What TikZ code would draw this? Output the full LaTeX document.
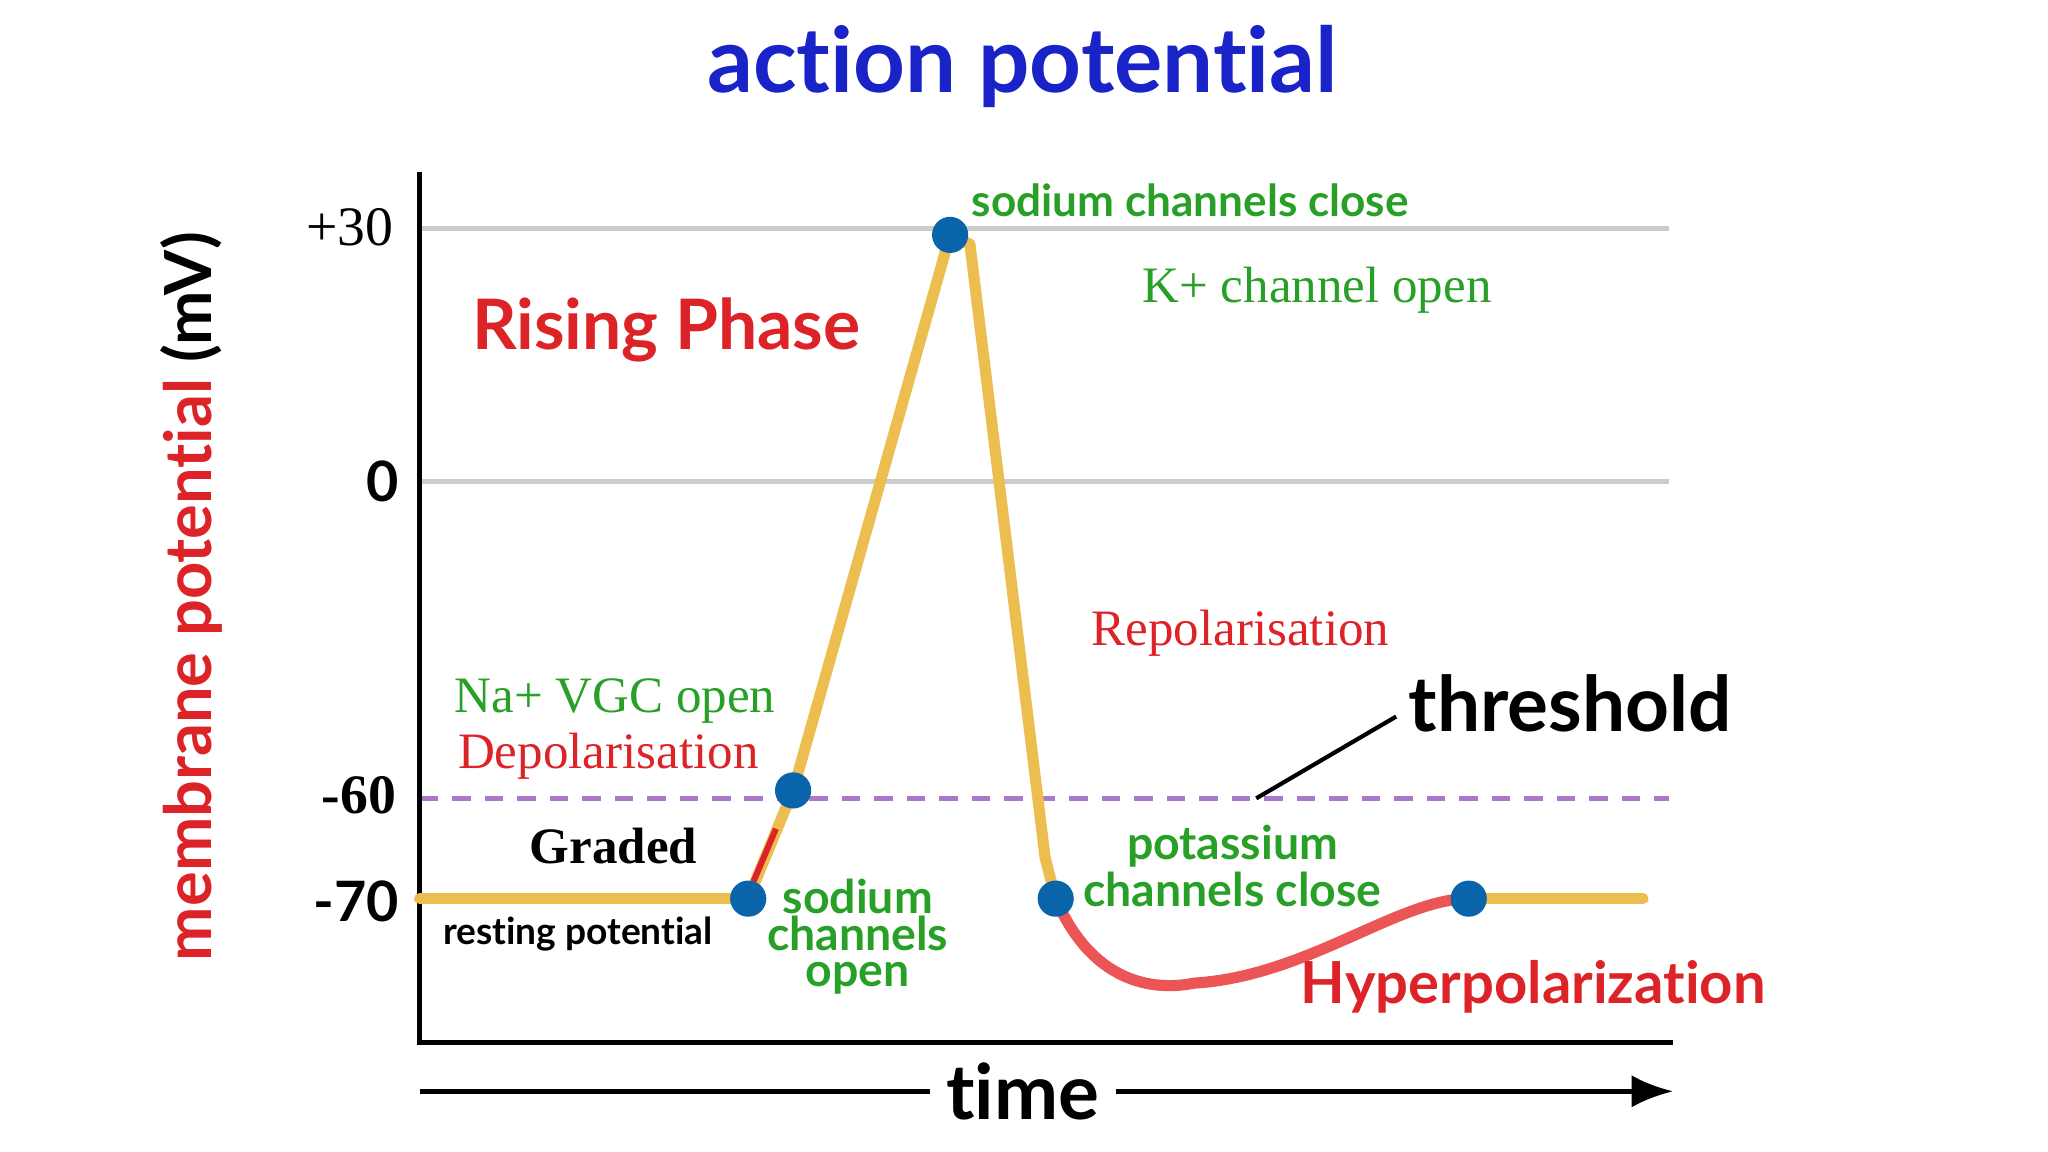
\documentclass[tikz,border=0pt]{standalone}
\usepackage{fontspec}
\setmainfont{Liberation Serif}
\newfontfamily\sansb[Ligatures=NoCommon]{Lato}
\usetikzlibrary{arrows.meta}
\definecolor{ttl}{RGB}{25,35,200}
\definecolor{rd}{RGB}{220,35,40}
\definecolor{gr}{RGB}{40,160,40}
\definecolor{yl}{RGB}{236,190,80}
\definecolor{crv}{RGB}{235,85,85}
\definecolor{bl}{RGB}{10,100,170}
\definecolor{pu}{RGB}{170,120,200}
\tikzset{x=0.01cm,y=-0.01cm,
 sb/.style={font=\sansb\bfseries},
 dot/.style={circle,fill=bl,inner sep=0pt,minimum size=7.8pt},
 grid/.style={draw=gray!40,line width=1pt}}
\begin{document}
\begin{tikzpicture}
\useasboundingbox (0,0) rectangle (1552,873);
\node[sb,text=ttl,font=\sansb\bfseries\fontsize{19.5}{22}\selectfont] (title) at (775,50) {action potential};
% grid
\draw[grid] (318,173) -- (1265,173);
\draw[grid] (318,365) -- (1265,365);
\draw[pu,line width=1pt,dash pattern=on 4pt off 3pt] (318,605) -- (1265,605);
\draw[line width=1.1pt] (318,130) -- (318,790) -- (1268,790);
% axis labels
\node[rotate=90,font=\sansb\bfseries\fontsize{14}{16}\selectfont] (ylab) at (145,452) {\textcolor{rd}{membrane potential} (mV)};
\node[font=\fontsize{12}{14}\selectfont] (p30) at (265,172) {+30};
\node[font=\sansb\bfseries\fontsize{12}{14}\selectfont] (z) at (290,365) {0};
\node[font=\bfseries\fontsize{12}{14}\selectfont] (m60) at (272,603) {-60};
\node[font=\sansb\bfseries\fontsize{12}{14}\selectfont] (m70) at (270,683) {-70};
% curve
\coordinate (c0) at (318,681);
\coordinate (d1) at (567,681);
\coordinate (d2) at (601,599);
\coordinate (d3) at (720,178);
\coordinate (d4) at (800,681);
\coordinate (d5) at (1113,681);
\coordinate (c9) at (1245,681);
\draw[yl,line width=2.4pt,line cap=round] (c0) -- (d1);
\draw[yl,line width=2.4pt] (d1) -- (d2);
\draw[rd,line width=1.3pt] (571,668) -- (588,628);
\draw[yl,line width=2.4pt,line cap=round,line join=round] (d2) -- (d3) -- (735,185) -- (792,650) -- (d4);
\draw[crv,line width=2.4pt,line cap=round] (d4) .. controls (830,750) and (880,750) .. (905,745) .. controls (990,740) and (1060,681) .. (d5);
\draw[yl,line width=2.4pt,line cap=round] (d5) -- (c9);
\foreach \n in {d1,d2,d3,d4,d5} \node[dot] at (\n) {};
% texts
\node[text=gr,font=\sansb\bfseries\fontsize{9.5}{11}\selectfont] (t1) at (902,152) {sodium channels close};
\node[text=gr,font=\fontsize{11}{13}\selectfont] (t2) at (998,220) {K+ channel open};
\node[text=rd,font=\sansb\bfseries\fontsize{15}{17}\selectfont] (t3) at (505,250) {Rising Phase};
\node[text=rd,font=\fontsize{11}{13}\selectfont] (t4) at (940,480) {Repolarisation};
\node[font=\sansb\bfseries\fontsize{16.5}{19}\selectfont] (t5) at (1190,533) {threshold};
\coordinate (th) at (952,605);
\draw[line width=0.9pt] (1058,543) -- (th);
\node[text=gr,font=\fontsize{11}{13}\selectfont] (t6) at (466,531) {Na+ VGC open};
\node[text=rd,font=\fontsize{11}{13}\selectfont] (t7) at (461,573) {Depolarisation};
\node[font=\bfseries\fontsize{11}{13}\selectfont] (t8) at (465,641) {Graded};
\node[font=\sansb\bfseries\fontsize{8}{10}\selectfont] (t9) at (438,708) {resting potential};
\node[text=gr,align=center,font=\sansb\bfseries\fontsize{10}{7.9}\selectfont] (t10) at (650,710) {sodium\\channels\\open};
\node[text=gr,align=center,font=\sansb\bfseries\fontsize{10}{7.9}\selectfont] (t11) at (934,656) {potassium\\channels close};
\node[text=rd,font=\sansb\bfseries\fontsize{12.5}{15}\selectfont] (t12) at (1162,748) {Hyperpolarization};
\node[font=\sansb\bfseries\fontsize{16.5}{19}\selectfont] (time) at (775,827) {time};
\coordinate (ta) at (318,827);
\coordinate (tb) at (1268,827);
\draw[line width=1.1pt] (ta) -- (time.west);
\draw[line width=1.1pt,-{Latex[length=9pt,width=7pt]}] (time.east) -- (tb);
\end{tikzpicture}
\end{document}
